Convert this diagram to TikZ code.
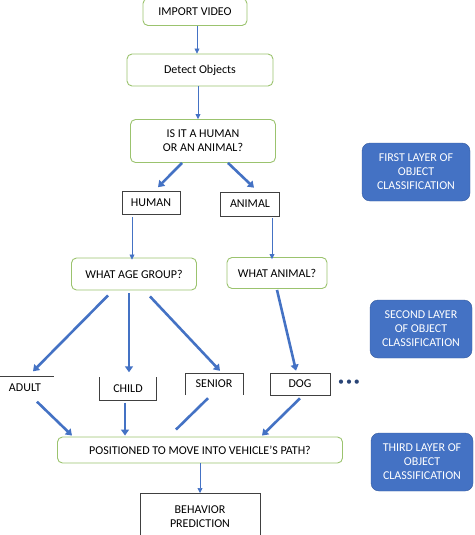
\documentclass[tikz,border=0pt]{standalone}
\usepackage{fontspec}
\setmainfont{Carlito}
\usetikzlibrary{arrows.meta}
\definecolor{boxgreen}{HTML}{9BC36E}
\definecolor{layerblue}{HTML}{4472C4}
\tikzset{
  qbox/.style={draw=boxgreen, line width=0.9pt, rounded corners=5pt, fill=white, align=center, inner sep=0pt},
  plainbox/.style={draw=black!75, line width=0.6pt, align=center, inner sep=0pt},
  layer/.style={fill=layerblue, draw=layerblue!80!black, rounded corners=8pt, text=white, align=center, inner sep=0pt, minimum width=102pt, minimum height=58pt},
  thinarr/.style={draw=layerblue, line width=0.7pt, -{Triangle[length=5pt,width=5pt]}},
  thickarr/.style={draw=layerblue, line width=2.6pt, -{Triangle[length=6pt,width=8pt]}},
  every node/.style={font=\fontsize{12}{14}\selectfont}
}
\begin{document}
\begin{tikzpicture}[x=1pt,y=-1pt]
\useasboundingbox (0,0) rectangle (474,535);
% main column
\node[qbox, minimum width=104pt, minimum height=27pt] (import) at (195,12) {IMPORT VIDEO};
\node[qbox, minimum width=146pt, minimum height=32pt] (detect) at (200,70) {Detect Objects};
\node[qbox, minimum width=145pt, minimum height=43pt] (question) at (203,141) {IS IT A HUMAN\\OR AN ANIMAL?};
\node[plainbox, minimum width=58pt, minimum height=23pt] (human) at (151,203) {HUMAN};
\node[plainbox, minimum width=59pt, minimum height=24pt] (animal) at (250,204) {ANIMAL};
\node[qbox, minimum width=125pt, minimum height=32pt] (agegroup) at (134,274) {WHAT AGE GROUP?};
\node[qbox, minimum width=100pt, minimum height=31pt] (whatanimal) at (277,273) {WHAT ANIMAL?};
% the leaves, with their broken frames
\node[minimum width=57pt, minimum height=23pt, inner sep=0pt] (adult) at (25,388) {ADULT};
\draw[black!75, line width=0.6pt] (adult.north west) -- (adult.north east);
\node[minimum width=57pt, minimum height=23pt, inner sep=0pt] (child) at (128,389) {CHILD};
\draw[black!75, line width=0.6pt] (child.north west) |- (child.south east) -- (child.north east);
\node[minimum width=58pt, minimum height=22pt, inner sep=0pt] (senior) at (214,384) {SENIOR};
\draw[black!75, line width=0.6pt] (senior.south west) |- (senior.north east) -- (senior.south east);
\node[plainbox, minimum width=60pt, minimum height=22pt] (dog) at (300,384) {DOG};
\node[text=layerblue!60!black, font=\fontsize{12}{12}\selectfont] (more) at (349,383) {•\,•\,•};
\node[qbox, minimum width=285pt, minimum height=26pt] (vehicle) at (200,450) {POSITIONED TO MOVE INTO VEHICLE'S PATH?};
\node[plainbox, minimum width=120pt, minimum height=46pt, anchor=north] (behavior) at (200,493) {BEHAVIOR\\PREDICTION};
% layer labels
\node[layer, minimum width=108pt] (first) at (416,172) {FIRST LAYER OF\\OBJECT\\CLASSIFICATION};
\node[layer] (second) at (421,329) {SECOND LAYER\\OF OBJECT\\CLASSIFICATION};
\node[layer] (third) at (422,462) {THIRD LAYER OF\\OBJECT\\CLASSIFICATION};
% connectors
\draw[thinarr] ([xshift=2pt]import.south) -- ([xshift=2pt]import.south |- detect.north);
\draw[thinarr] ([xshift=-2pt]detect.south) -- ([xshift=-2pt]detect.south |- question.north);
\draw[thickarr] ([xshift=-21pt]question.south) -- ([xshift=7pt,yshift=4pt]human.north);
\draw[thickarr] ([xshift=25pt]question.south) -- ([xshift=4pt,yshift=4pt]animal.north);
\draw[thinarr] ([xshift=-19pt,yshift=-2pt]human.south) -- ([xshift=-19pt,yshift=-2pt]human.south |- agegroup.north);
\draw[thinarr] ([xshift=22pt,yshift=-2pt]animal.south) -- ([xshift=22pt,yshift=-2pt]animal.south |- whatanimal.north);
\draw[thickarr] ([xshift=-26pt,yshift=-5pt]agegroup.south) -- ([xshift=8pt,yshift=5pt]adult.north);
\draw[thickarr] ([xshift=-5pt,yshift=-3pt]agegroup.south) -- ([xshift=1pt,yshift=5pt]child.north);
\draw[thickarr] ([xshift=16pt,yshift=-6pt]agegroup.south) -- ([xshift=6pt,yshift=2pt]senior.north);
\draw[thickarr] ([yshift=-1pt]whatanimal.south) -- ([xshift=-4pt,yshift=2pt]dog.north);
\draw[thickarr] ([xshift=12pt,yshift=-2pt]adult.south) -- ([xshift=-128pt,yshift=1pt]vehicle.north);
\draw[thickarr] ([xshift=-3pt,yshift=-2pt]child.south) -- ([xshift=-75pt,yshift=1pt]vehicle.north);
\draw[thickarr, -] ([xshift=-6pt,yshift=-3pt]senior.south) -- ([xshift=-24pt,yshift=7pt]vehicle.north);
\draw[thickarr] ([yshift=-3pt]dog.south) -- ([xshift=62pt,yshift=1pt]vehicle.north);
\draw[thinarr] (vehicle) -- (behavior);
\end{tikzpicture}
\end{document}
